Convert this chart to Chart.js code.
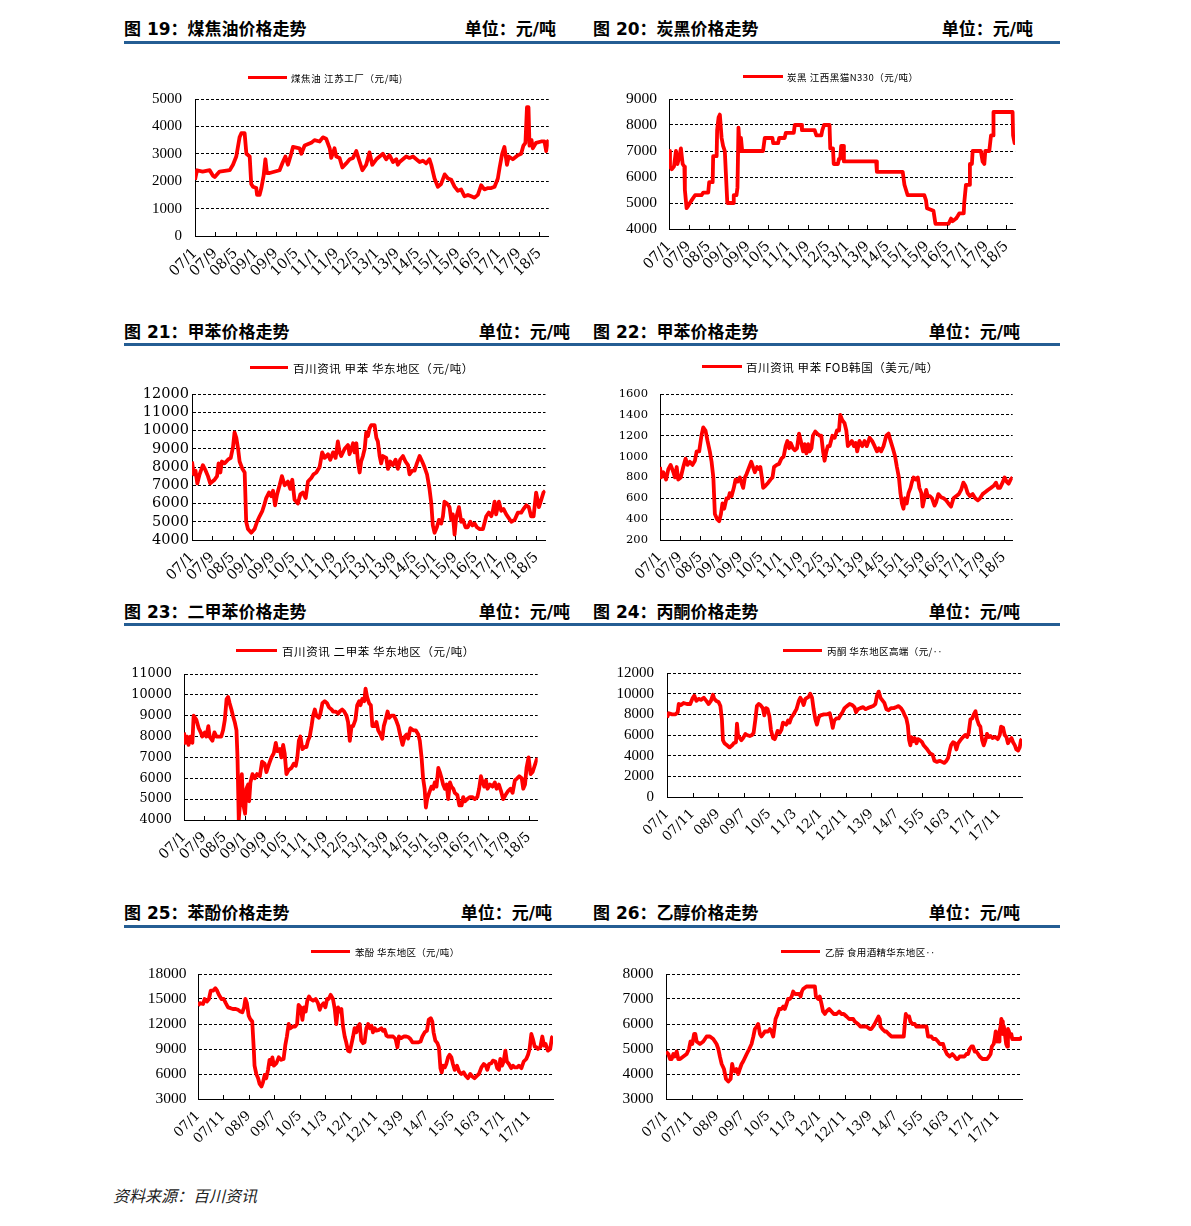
<!DOCTYPE html>
<html><head><meta charset="utf-8">
<script src="https://cdn.jsdelivr.net/npm/chart.js@4.4.1/dist/chart.umd.min.js"></script>
<style>
html,body{margin:0;padding:0;background:#fff;}
body{width:1191px;height:1226px;position:relative;overflow:hidden;}
.hd{position:absolute;font-family:"DejaVu Sans","Noto Sans CJK SC",sans-serif;font-weight:bold;font-size:17px;line-height:20px;color:#000;white-space:nowrap;}
.rule{position:absolute;left:124px;width:936px;height:3px;background:#245D93;}
.lgl{position:absolute;height:3px;background:#FF0000;}
.lgt{position:absolute;font-family:"Noto Sans CJK SC",sans-serif;color:#000;white-space:nowrap;line-height:14px;}
canvas{position:absolute;}
.src{position:absolute;left:113px;top:1184px;font-family:"Noto Sans CJK SC",sans-serif;font-style:italic;font-size:16px;line-height:22px;color:#222;}
</style></head>
<body>
<div class="hd" style="left:124px;top:19px">图 19：煤焦油价格走势</div>
<div class="hd" style="right:635px;top:19px">单位：元/吨</div>
<div class="hd" style="left:593px;top:19px">图 20：炭黑价格走势</div>
<div class="hd" style="right:158px;top:19px">单位：元/吨</div>
<div class="rule" style="top:41px"></div>

<div class="hd" style="left:124px;top:322px">图 21：甲苯价格走势</div>
<div class="hd" style="right:621px;top:322px">单位：元/吨</div>
<div class="hd" style="left:593px;top:322px">图 22：甲苯价格走势</div>
<div class="hd" style="right:171px;top:322px">单位：元/吨</div>
<div class="rule" style="top:343px"></div>

<div class="hd" style="left:124px;top:602px">图 23：二甲苯价格走势</div>
<div class="hd" style="right:621px;top:602px">单位：元/吨</div>
<div class="hd" style="left:593px;top:602px">图 24：丙酮价格走势</div>
<div class="hd" style="right:171px;top:602px">单位：元/吨</div>
<div class="rule" style="top:623px"></div>

<div class="hd" style="left:124px;top:903px">图 25：苯酚价格走势</div>
<div class="hd" style="right:639px;top:903px">单位：元/吨</div>
<div class="hd" style="left:593px;top:903px">图 26：乙醇价格走势</div>
<div class="hd" style="right:171px;top:903px">单位：元/吨</div>
<div class="rule" style="top:925px"></div>

<canvas id="c19" width="441" height="222" style="left:120px;top:69px"></canvas>
<canvas id="c20" width="434" height="215" style="left:594px;top:69px"></canvas>
<canvas id="c21" width="441" height="231" style="left:117px;top:364px"></canvas>
<canvas id="c22" width="440" height="231" style="left:585px;top:364px"></canvas>
<canvas id="c23" width="441" height="231" style="left:109px;top:644px"></canvas>
<canvas id="c24" width="442" height="209" style="left:592px;top:643px"></canvas>
<canvas id="c25" width="442" height="210" style="left:123px;top:944px"></canvas>
<canvas id="c26" width="443" height="210" style="left:591px;top:944px"></canvas>

<div class="lgl" style="left:248px;top:76px;width:39px"></div>
<div class="lgt" style="left:291px;top:71px;font-size:9.5px;letter-spacing:0.6px">煤焦油 江苏工厂（元/吨)</div>
<div class="lgl" style="left:743px;top:75px;width:40px"></div>
<div class="lgt" style="left:787px;top:70px;font-size:9.5px;letter-spacing:0.5px">炭黑 江西黑猫N330（元/吨）</div>
<div class="lgl" style="left:250px;top:366px;width:38px"></div>
<div class="lgt" style="left:293px;top:361px;font-size:11.5px;letter-spacing:0.6px">百川资讯 甲苯 华东地区（元/吨）</div>
<div class="lgl" style="left:702px;top:365px;width:40px"></div>
<div class="lgt" style="left:746px;top:360px;font-size:11.5px;letter-spacing:0.6px">百川资讯 甲苯 FOB韩国（美元/吨）</div>
<div class="lgl" style="left:236px;top:649px;width:41px"></div>
<div class="lgt" style="left:282px;top:644px;font-size:11.5px;letter-spacing:0.6px">百川资讯 二甲苯 华东地区（元/吨）</div>
<div class="lgl" style="left:783px;top:649px;width:39px"></div>
<div class="lgt" style="left:827px;top:644px;font-size:9.5px;letter-spacing:0.4px">丙酮 华东地区高端（元/‥</div>
<div class="lgl" style="left:311px;top:950px;width:39px"></div>
<div class="lgt" style="left:355px;top:945px;font-size:9.5px;letter-spacing:0.3px">苯酚 华东地区（元/吨）</div>
<div class="lgl" style="left:781px;top:950px;width:39px"></div>
<div class="lgt" style="left:825px;top:945px;font-size:9.5px;letter-spacing:0.3px">乙醇 食用酒精华东地区‥</div>

<div class="src">资料来源：百川资讯</div>

<script>
// tick labels (year/month since 2007)
const topTicks = ['07/1','07/9','08/5','09/1','09/9','10/5','11/1','11/9','12/5','13/1','13/9','14/5','15/1','15/9','16/5','17/1','17/9','18/5'];
const bottomTicks = ['07/1','07/11','08/9','09/7','10/5','11/3','12/1','12/11','13/9','14/7','15/5','16/3','17/1','17/11'];

// series: [months since 2007/1, price]
const coalTar = [[0,2050],[0.8,2400],[3,2350],[5.8,2400],[7.1,2200],[7.8,2150],[9.7,2350],[13.7,2400],[15,2600],[16.3,2900],[17.6,3600],[18.3,3750],[19.6,3750],[20.3,3000],[21.6,2900],[22.2,1900],[22.9,1800],[24.2,1750],[24.5,1500],[25.5,1500],[26.2,1750],[27.1,2200],[27.8,2800],[28.4,2300],[29.5,2300],[33.4,2400],[34.7,2700],[35.7,2900],[36.7,2600],[38,3000],[38.7,3250],[41.3,3200],[42,3000],[43.3,3300],[45.9,3400],[47.2,3500],[49.2,3450],[50.5,3600],[51.8,3550],[53.2,3200],[53.8,2850],[55.1,3200],[55.8,2900],[57.1,2850],[58.2,2500],[59.7,2650],[61.1,2800],[62.4,2850],[63.7,3100],[64.7,2800],[66.1,2400],[67.6,2600],[68.9,3050],[70,2600],[71.6,2800],[74.2,3000],[75.5,2800],[76.8,2950],[78.2,2700],[79.5,2800],[80.1,2600],[80.8,2700],[83.4,2900],[84.7,2850],[86.1,2900],[87.4,2800],[88.7,2700],[90,2750],[91.3,2650],[92.6,2800],[93.3,2600],[94.6,2100],[95.9,1800],[97.2,1900],[98.6,2250],[99.9,2100],[101.2,2050],[102.5,1800],[103.8,1650],[105.1,1700],[106.4,1450],[107.8,1500],[109.1,1450],[110.4,1400],[111.7,1500],[113,1850],[114.3,1700],[115.7,1750],[117,1750],[118.3,1800],[119.6,2100],[120.3,2500],[121.3,3000],[122.2,3250],[123.2,2600],[123.9,2900],[125.5,2800],[127.5,2950],[128.8,3000],[129.7,3300],[130.5,3400],[131.1,4700],[131.7,4700],[132.1,3300],[132.9,3500],[133.4,3200],[134.7,3400],[136.7,3450],[138,3450],[138.7,3100],[139.3,3450],[139.7,3500]];

const carbonBlack = [[0,7000],[0.4,6400],[1.1,6300],[2,6400],[2.8,7000],[3.4,6500],[4.2,6800],[4.8,7100],[5.5,6500],[6.2,6400],[6.4,5500],[7.1,4800],[7.8,4900],[8.4,5000],[9.1,5100],[10.5,5300],[13.1,5300],[13.8,5400],[15.8,5400],[16.2,5800],[17.6,5800],[17.8,6800],[19.2,6800],[19.4,7800],[20,8300],[20.5,8400],[21.2,7500],[21.8,7200],[22.5,7000],[22.9,6200],[23.5,5000],[25.9,5000],[26.1,5300],[27.2,5300],[27.6,5600],[28,7900],[28.6,7000],[29,7500],[29.5,7000],[37.9,7000],[38.6,7500],[41.7,7500],[42,7300],[44,7300],[44.4,7500],[46.6,7500],[47.1,7700],[50.3,7700],[50.7,8000],[53.4,8000],[53.6,7800],[58.7,7800],[59.4,7600],[61.4,7600],[61.8,7800],[62.5,8000],[64.7,8000],[65,7100],[66.1,7100],[66.4,6500],[68.1,6500],[68.5,6700],[69,6700],[69.4,7200],[70.4,7200],[70.5,6600],[83.5,6600],[83.8,6200],[94.2,6200],[94.9,5700],[96.2,5300],[102.9,5300],[103.6,5100],[104,4800],[106.6,4700],[107.4,4200],[112.7,4200],[113.7,4400],[114.3,4300],[115.7,4400],[116.4,4500],[117,4600],[118.8,4600],[119,5000],[119.7,5700],[121,5700],[121.3,6500],[122.1,6500],[122.4,7000],[125.7,7000],[126.4,6600],[127.1,6500],[127.5,7000],[129.1,7000],[129.8,7600],[130.7,7600],[130.8,8500],[138.5,8500],[138.7,7600],[139.3,7300],[139.5,7300]];

const tolueneEast = [[0,8300],[0.7,7600],[1.4,7800],[2.1,7100],[3,7600],[4.3,8100],[5.4,7800],[6.3,7500],[7.2,7100],[8.9,7300],[9.9,7500],[10.5,8200],[11.2,7700],[11.8,8300],[12.9,8200],[14.2,8400],[15.3,8500],[16.2,9100],[16.8,9900],[17.5,9600],[18.2,9000],[18.8,8300],[19.9,7900],[20.8,7700],[21.4,5000],[22.1,4600],[23.4,4400],[24.7,4600],[25.7,5000],[26.7,5300],[27.8,5600],[28.7,6000],[29.3,6300],[30.4,6600],[31.3,6400],[32,6700],[32.8,5900],[33.6,6500],[34.6,7000],[35.5,7500],[36.6,7000],[37.9,7200],[38.8,6800],[39.6,7300],[40.5,6200],[41.8,6000],[42.8,6500],[43.8,6600],[44.9,6300],[45.8,7200],[47.1,7400],[48,7600],[49.1,7700],[50.4,8000],[51.4,8800],[52.4,8500],[53.7,8700],[54.6,8400],[55.7,8800],[56.7,8500],[57.6,9400],[58.3,8800],[58.9,8600],[60.3,9000],[61.6,9200],[62.2,8700],[63.6,9300],[64.2,8800],[64.9,9300],[65.5,8300],[66.2,7700],[66.8,8300],[67.5,8600],[68.2,9000],[68.8,9900],[69.5,9700],[70.1,10100],[70.8,10300],[72.1,10300],[72.8,9600],[73.4,9400],[74.1,8600],[74.7,8200],[75.4,8600],[76.7,8500],[77.4,7900],[78.3,8300],[79.3,8100],[80.4,8400],[81.3,7900],[82.2,8400],[83.3,8600],[84.3,8300],[85.3,8100],[85.9,7600],[87,7800],[87.9,7800],[88.8,8200],[89.9,8600],[90.9,8300],[91.8,8000],[92.8,7600],[93.8,6800],[94.5,6000],[95.1,4800],[95.8,4400],[96.7,4700],[97.5,5100],[98.4,4900],[99.1,5300],[99.7,6100],[100.7,6000],[101.7,5800],[102.4,5100],[103,5400],[103.7,4300],[104.3,5200],[105.4,5800],[106.3,5000],[107,5100],[108,4700],[108.9,4700],[109.9,5000],[110.7,4800],[111.6,4900],[112.5,4700],[113.6,4600],[114.9,4600],[116.2,5300],[117.2,5500],[118.2,5300],[118.8,5600],[119.5,6100],[120.1,5400],[121.2,6100],[122.1,5600],[123,5700],[124.1,5400],[125.1,5200],[126.1,5000],[127.4,5100],[128.7,5500],[130,5500],[130.9,5700],[132,5900],[133,5800],[133.9,5300],[134.9,5300],[135.9,6600],[137,5800],[137.9,6200],[138.8,6600],[139.5,6700]];

const tolueneFob = [[0,900],[0.4,800],[1.3,850],[2.4,780],[3.3,880],[4.2,920],[5.3,850],[5.9,800],[6.6,900],[7.2,780],[8.2,800],[9.2,900],[10.1,980],[10.9,920],[11.8,950],[12.8,920],[13.8,960],[14.5,1050],[15.5,1050],[16.4,1200],[17.1,1280],[18,1250],[18.8,1150],[19.7,1050],[20.4,950],[21.1,800],[21.7,450],[22.6,400],[23.4,380],[24.1,450],[24.7,550],[25.4,500],[26.3,600],[27.1,600],[27.6,650],[28.3,620],[29.2,700],[29.9,780],[30.7,760],[31.6,800],[32.2,750],[32.9,700],[33.6,800],[34.2,830],[35.3,900],[36.1,950],[36.8,900],[37.5,850],[38.4,900],[39.2,880],[39.7,900],[40.3,800],[40.8,700],[41.7,720],[42.8,750],[43.7,780],[44.5,800],[45.1,900],[46.1,920],[47.1,930],[48,980],[48.9,1000],[49.7,1100],[50.4,1150],[51.1,1080],[51.7,1130],[52.6,1080],[53.3,1060],[54.2,1080],[55,1220],[55.7,1150],[56.6,1050],[57.2,1120],[57.9,1030],[58.6,1120],[59.2,1050],[59.9,1080],[60.5,1200],[61.4,1240],[62.2,1220],[63.2,1200],[63.8,1200],[64.5,1050],[65.1,960],[65.8,1050],[66.4,1100],[67.1,1100],[68.2,1200],[69.1,1180],[70,1250],[70.8,1250],[71.3,1400],[72.1,1350],[73,1320],[73.7,1250],[74.3,1100],[75,1120],[75.9,1150],[76.7,1100],[77.4,1130],[78,1050],[78.9,1150],[80,1100],[80.9,1150],[81.8,1100],[82.9,1180],[83.9,1150],[84.9,1100],[85.8,1050],[86.6,1080],[87.5,1050],[88.4,1100],[89.5,1200],[90.4,1220],[91.2,1150],[92.1,1080],[93,1000],[93.7,900],[94.5,800],[95.1,650],[95.7,550],[96.3,500],[96.9,600],[97.6,550],[98.3,650],[99.1,700],[99.6,750],[100.3,800],[101.1,780],[102,800],[102.6,700],[103.4,650],[103.9,520],[104.6,600],[105.3,680],[105.9,620],[106.8,620],[107.6,600],[108.6,530],[109.2,560],[110.1,640],[111.2,610],[112.2,600],[113.2,580],[114.1,550],[115.1,520],[116.1,600],[117.1,620],[118.2,640],[119.1,680],[120,750],[120.8,720],[121.7,650],[122.6,620],[123.7,640],[124.7,600],[125.7,580],[126.6,600],[127.6,640],[128.7,660],[129.7,680],[130.9,700],[132,720],[132.9,750],[133.7,700],[134.5,700],[135.5,750],[136.3,800],[137.1,760],[137.9,740],[138.7,780],[139.5,800]];

const xylene = [[0,8200],[0.5,7700],[1.2,8000],[1.8,7600],[2.6,8000],[3.3,7700],[3.8,9000],[4.9,8800],[5.8,8400],[6.6,8200],[7.2,8000],[8.2,8200],[8.8,8000],[9.6,8500],[10.1,8000],[11.2,7800],[12,8200],[12.8,8000],[13.8,8000],[14.7,8000],[15.4,8300],[16.1,8800],[16.8,9800],[17.4,9900],[18,9600],[18.7,9300],[19.3,9000],[20,8700],[20.7,8300],[21.1,7000],[21.6,4000],[22.2,5000],[22.8,6200],[23.3,4800],[24.1,4300],[24.6,5500],[25.3,5700],[25.7,4900],[26.2,5800],[27,6200],[27.9,6000],[28.8,6200],[29.9,6100],[30.8,6800],[31.8,6700],[32.5,6300],[33.6,6700],[34.5,7000],[35.4,7200],[36.2,7700],[36.8,7300],[37.8,7400],[38.4,7000],[39.1,7600],[39.7,7200],[40.4,6200],[41.3,6400],[42.4,6500],[43.3,6700],[44.1,6600],[44.7,7000],[45.3,7800],[45.9,8000],[46.7,7400],[47.6,7500],[48.3,7500],[48.9,7800],[49.6,8000],[50.3,8500],[50.9,9000],[51.6,9300],[52.2,9000],[53.2,8900],[53.8,9100],[54.6,9600],[55.5,9700],[56.4,9600],[57.2,9400],[58.2,9300],[58.8,9200],[59.9,9200],[60.8,9100],[61.4,9200],[62.4,9300],[63.2,9200],[64.1,9000],[64.7,8700],[65.4,7800],[66.1,8500],[66.7,8500],[67.6,8800],[68.3,9500],[69.1,9700],[69.6,9500],[70.3,9800],[71.1,9700],[71.6,10300],[72.2,9900],[73,9600],[73.7,9500],[74.3,8500],[75.3,8500],[75.9,8700],[76.6,8300],[77.5,8100],[78.2,7900],[78.8,8500],[79.5,8800],[80.3,9200],[80.9,8900],[81.8,9000],[82.8,9000],[83.6,8800],[84.5,8500],[85.4,8000],[86.2,7600],[87.1,8000],[87.8,8100],[88.4,7900],[89.3,8400],[90.4,8300],[91.4,8300],[92.4,8100],[93,7800],[93.7,7000],[94.3,6000],[94.9,5500],[95.4,4600],[95.9,5000],[96.7,5300],[97.6,5600],[98.3,5500],[98.9,5800],[99.6,5600],[100.3,6500],[100.9,6300],[101.6,6000],[102.2,5700],[102.9,5500],[103.6,5700],[104.2,5000],[104.9,5800],[105.5,5600],[106.2,5500],[106.8,5300],[107.8,5200],[108.6,4700],[109.5,4700],[110.1,5100],[110.8,4900],[111.7,5000],[112.8,5100],[113.8,5100],[114.7,5000],[115.7,5100],[116.4,5500],[117.1,6100],[117.8,5800],[118.4,5600],[119.1,5900],[119.7,5500],[120.7,5700],[121.7,5600],[122.6,5800],[123.3,5500],[124.2,5700],[125,5400],[125.9,5000],[126.8,5200],[127.9,5400],[128.8,5500],[129.6,5300],[130.5,5900],[131.4,6000],[132.2,6100],[133.2,6000],[133.8,5500],[134.5,5700],[135.1,6500],[135.9,7000],[136.7,6200],[137.5,6300],[138.3,6600],[139.1,6900],[139.5,6800]];

const acetone = [[0,7700],[0.7,8100],[2,8000],[3.3,8000],[4.2,8200],[4.6,9000],[5.5,8900],[6.5,9100],[7.8,9000],[9.1,9000],[10.1,9600],[10.7,9800],[11.5,9300],[12.4,9500],[13.3,9400],[14.4,9600],[15.4,9300],[16.3,9000],[17.2,9300],[18,9900],[18.5,9500],[19.3,9300],[20.2,9200],[20.9,8800],[21.5,7500],[21.9,5500],[22.5,5200],[23.5,5000],[24.5,4800],[25.5,5000],[26.1,5200],[27,5300],[27.4,7100],[27.8,6000],[28.5,5700],[29.1,5500],[29.8,5700],[30.7,6100],[31.3,6000],[32.4,5900],[33.3,6000],[33.9,6200],[34.6,7500],[35.2,8800],[35.9,9000],[36.6,8900],[37.5,8600],[38.1,7900],[38.8,8600],[39.4,8500],[40.1,7800],[40.7,6500],[41.5,5700],[42.2,5600],[42.8,6000],[43.3,6400],[44.1,6200],[44.8,6500],[45.4,7200],[46,7100],[46.7,7000],[47.4,7400],[48,7200],[48.7,7700],[49.3,7900],[50,8200],[50.7,8500],[51.6,9300],[52.2,9600],[52.9,9300],[53.5,8900],[54.2,9500],[54.8,9600],[55.5,9700],[56.1,10000],[56.8,9600],[57.4,8500],[58.1,7500],[58.7,7000],[59.4,7700],[60.1,7900],[61.4,8000],[62.7,8000],[63.7,8100],[64.2,7600],[64.9,6700],[65.5,7400],[66.3,7600],[67.2,7600],[67.9,7900],[68.7,8200],[69.5,8600],[70.5,8800],[71.5,9000],[72.5,8900],[73.4,8700],[74,8200],[74.8,8500],[75.7,8600],[76.8,8700],[77.7,8500],[78.6,8600],[79.6,8700],[80.7,8800],[81.6,9000],[82.2,9800],[82.9,10200],[83.6,9600],[84.2,9400],[85.1,9100],[85.9,8500],[86.8,8400],[87.7,8600],[88.8,8600],[89.8,8700],[90.7,8800],[91.6,8600],[92.4,8300],[92.9,8000],[93.7,7600],[94.3,6900],[94.8,5500],[95.3,5000],[95.7,5800],[96.3,5400],[97,5700],[97.7,5200],[98.3,5600],[99,5500],[99.9,5300],[100.5,5000],[101.6,4700],[102.5,4400],[103.1,4200],[104,4100],[104.7,3500],[105.7,3400],[106.8,3500],[107.7,3400],[108.6,3300],[109.4,3500],[110.1,3800],[110.6,4400],[111.2,5000],[112,5300],[112.7,5200],[113.3,4600],[114,5200],[114.9,5500],[115.9,5800],[116.8,6000],[117.5,5800],[118.1,6200],[118.8,7500],[119.5,7600],[120.1,8000],[120.8,8300],[121.4,7500],[122.1,7000],[122.7,6800],[123.4,5500],[124,5000],[124.7,5500],[125.3,6100],[126,5800],[126.6,5900],[127.5,5700],[128.5,5800],[129.5,5600],[130.3,6000],[130.8,6800],[131.6,6700],[132.2,6000],[132.9,5800],[133.5,5200],[134.2,5500],[134.9,5700],[135.5,5300],[136.2,5000],[136.8,4600],[137.5,4500],[138.1,4800],[138.6,5500],[139,5600]];

const phenol = [[0,14200],[0.7,14500],[2,14400],[2.6,15000],[3.5,14700],[4.3,15000],[5,16000],[5.9,16000],[6.8,16300],[7.5,16000],[8.2,15500],[9.2,15000],[10.1,15000],[10.9,14500],[11.8,14000],[12.8,13900],[13.7,13800],[14.8,13800],[15.7,13700],[16.6,13500],[17.4,13400],[18.1,14000],[18.6,15000],[19.2,14500],[19.9,13000],[20.5,12600],[21.3,12300],[21.9,9000],[22.2,7000],[22.9,6000],[23.6,5500],[24.2,4800],[24.9,4500],[25.5,5000],[26.2,5900],[26.8,5500],[27.5,6500],[28.1,7700],[28.8,7200],[29.2,8000],[29.8,7000],[30.8,7300],[31.7,8000],[32.7,7700],[33.6,7800],[34.3,9500],[34.9,10500],[35.6,12000],[36.3,11500],[37.3,11700],[38.2,11700],[38.9,12000],[39.5,14300],[40.3,14000],[41,12500],[41.6,14000],[42.3,13500],[42.9,14800],[43.6,15300],[44.2,15000],[45.2,14800],[46.2,15000],[47.1,14500],[47.8,13700],[48.4,14200],[49.3,14500],[50,14000],[50.7,15000],[51.3,15000],[52.1,15500],[53,15000],[53.7,13800],[54.3,12000],[55,14000],[55.6,13500],[56.3,13800],[56.9,11800],[57.6,10500],[58.2,9800],[58.9,8800],[59.6,8700],[60.2,9500],[60.9,10500],[61.5,11500],[62.2,11000],[62.8,11700],[63.5,12000],[64.1,10000],[64.8,9700],[65.4,9800],[66.1,11500],[66.8,12000],[67.4,11500],[68.1,11800],[68.7,11000],[69.4,11500],[70,11200],[71.1,11300],[72,11500],[72.6,11200],[73.3,11300],[74,10600],[74.6,10500],[75.5,10500],[76.6,10500],[77.6,10200],[78.3,9200],[78.9,10500],[79.8,10300],[80.8,10500],[81.8,10500],[82.7,10400],[83.4,10200],[84.2,9800],[85.1,9800],[86.4,9800],[87.4,9900],[88.1,10500],[89,11000],[89.9,11200],[90.6,12500],[91.4,12700],[92,12300],[92.5,11000],[93.2,10000],[94,9700],[94.6,9200],[95.2,6700],[95.7,6200],[96.2,7000],[96.9,6800],[97.5,7200],[98.2,8000],[98.8,8300],[99.5,8000],[100.1,7200],[100.8,6500],[101.7,7000],[102.5,6300],[103.4,6000],[104.3,6200],[105.1,5800],[106,5500],[106.9,6000],[107.7,5700],[108.6,5500],[109.6,5800],[110.3,6000],[111.3,6800],[112.2,7200],[113,7000],[113.6,6500],[114.3,7200],[115.2,7300],[115.8,7600],[116.8,7500],[117.5,6700],[118.2,6500],[118.7,7800],[119.4,7000],[120,7500],[120.7,8800],[121.3,7500],[122.1,7200],[123,6700],[123.7,7000],[124.3,6800],[125.3,6800],[126,7000],[127,6700],[127.9,7500],[128.9,7800],[129.6,8300],[130.2,9000],[130.9,10800],[131.5,10200],[132.2,9300],[132.9,9200],[133.5,9000],[134.4,9200],[135.2,10500],[135.9,9400],[136.5,9600],[137.4,8800],[138.3,9000],[139,10400],[139.4,10500]];

const ethanol = [[0,4900],[0.9,4800],[1.6,4600],[2.2,4600],[2.9,4800],[3.5,4700],[4.2,4900],[4.8,4600],[5.5,4600],[6.8,4700],[8.1,4800],[9,5000],[9.6,5300],[10.3,5200],[11,5600],[11.5,5600],[12,5300],[13.3,5200],[14.6,5300],[15.9,5500],[17.2,5500],[18.5,5400],[19.8,5200],[20.5,5000],[21.1,4700],[21.8,4400],[22.7,4200],[23.5,3800],[24.4,3700],[25.3,3800],[25.9,4400],[26.3,4200],[27,4100],[27.6,4200],[28.3,4000],[28.9,4200],[29.6,4400],[30.2,4500],[31.6,4800],[32.6,5000],[33.5,5200],[34.2,5500],[34.8,5800],[35.5,5900],[36.1,6000],[36.8,5600],[37.4,5500],[38.1,5600],[38.7,5700],[40,5700],[40.7,5800],[41.3,5700],[42,5500],[42.4,5800],[42.9,6200],[43.7,6400],[44.3,6600],[45.2,6600],[45.9,6700],[46.5,6600],[47.2,6800],[47.8,7000],[48.5,7000],[49.2,7100],[49.8,7300],[50.5,7200],[51.1,7200],[52.2,7200],[52.7,7100],[53.2,7300],[53.7,7400],[55,7500],[56.3,7500],[57.6,7500],[58.3,7500],[58.7,7100],[59.6,7000],[60.2,7100],[60.9,6800],[61.5,6500],[62.2,6400],[62.8,6500],[63.9,6600],[64.8,6500],[65.7,6400],[66.8,6400],[67.8,6500],[68.7,6400],[69.6,6400],[70.7,6300],[71.7,6200],[72.6,6200],[73.3,6200],[73.9,6100],[75.2,6000],[76.1,5900],[77.2,5900],[78.5,5900],[79.8,5800],[80.4,5800],[81.1,5900],[81.7,6000],[82.7,6200],[83.2,6300],[83.7,6200],[84,5900],[84.7,5800],[85.7,5700],[86.3,5700],[87.2,5600],[88.3,5500],[89.2,5500],[90.2,5500],[92.2,5500],[93.1,5500],[93.5,6000],[93.9,6400],[94.4,6300],[95.2,6300],[95.7,6100],[96.5,6000],[97.4,6000],[98,5900],[99.3,5900],[100.7,5900],[102,5900],[102.3,5700],[102.6,5500],[103.9,5500],[104.6,5400],[105.6,5400],[106.5,5300],[107.2,5200],[107.8,5200],[108.5,5200],[109.1,5000],[110,4800],[111.1,4700],[112.1,4800],[113,4700],[113.7,4600],[114.3,4600],[115,4700],[116,4700],[116.9,4700],[117.6,4800],[118.3,4800],[118.9,5000],[119.6,5100],[120.2,5100],[120.9,4900],[121.5,4900],[122.2,4800],[122.8,4700],[123.9,4600],[124.8,4600],[125.7,4600],[126.5,4700],[127.1,4800],[127.6,5100],[128.3,5200],[128.7,5400],[129.1,5700],[129.6,5300],[130,5500],[130.4,5300],[130.6,5700],[131,5900],[131.3,6200],[131.7,6100],[131.9,5600],[132.3,5900],[132.7,5600],[133.2,5200],[133.6,5100],[133.9,5800],[134.3,5700],[134.8,5500],[135.2,5600],[135.6,5400],[136.5,5400],[137.8,5400],[138.7,5400],[139.4,5500]];

const monthOf = s => { const p = s.split('/').map(Number); return (p[0]-7)*12 + (p[1]-1); };

const innerTicks = {
  id: 'innerTicks',
  afterDraw(chart) {
    const x = chart.scales.x, ctx = chart.ctx;
    ctx.save(); ctx.strokeStyle = '#000'; ctx.lineWidth = 1;
    x.ticks.forEach(t => {
      const px = Math.round(x.getPixelForValue(t.value)) + 0.5;
      ctx.beginPath(); ctx.moveTo(px, x.top); ctx.lineTo(px, x.top - 4); ctx.stroke();
    });
    ctx.restore();
  }
};

const YW = 75, PT = 30, PR = 12, XH = 55;
const specs = [
  {id:'c19', data:coalTar, labels:topTicks, xMax:139.7, yMin:0, yMax:5000, step:1000, fam:'Liberation Serif', fs:15, gap:13, xfam:'DejaVu Serif', xfs:14.5},
  {id:'c20', data:carbonBlack, labels:topTicks, xMax:139.5, yMin:4000, yMax:9000, step:1000, fam:'Liberation Serif', fs:15.5, gap:12, xfam:'DejaVu Serif', xfs:14.5},
  {id:'c21', data:tolueneEast, labels:topTicks, xMax:139.6, yMin:4000, yMax:12000, step:1000, fam:'DejaVu Serif', fs:14.5, gap:3, xfam:'DejaVu Serif', xfs:14.5},
  {id:'c22', data:tolueneFob, labels:topTicks, xMax:139.5, yMin:200, yMax:1600, step:200, fam:'DejaVu Serif', fs:11.5, gap:12, xfam:'DejaVu Serif', xfs:14},
  {id:'c23', data:xylene, labels:topTicks, xMax:139.5, yMin:4000, yMax:11000, step:1000, fam:'DejaVu Serif', fs:12.8, gap:12, xfam:'DejaVu Serif', xfs:14},
  {id:'c24', data:acetone, labels:bottomTicks, xMax:139, yMin:0, yMax:12000, step:2000, fam:'Liberation Serif', fs:15, gap:13, xfam:'DejaVu Serif', xfs:13.5},
  {id:'c25', data:phenol, labels:bottomTicks, xMax:139.4, yMin:3000, yMax:18000, step:3000, fam:'Liberation Serif', fs:15.5, gap:11.5, xfam:'DejaVu Serif', xfs:13.5},
  {id:'c26', data:ethanol, labels:bottomTicks, xMax:139.4, yMin:3000, yMax:8000, step:1000, fam:'Liberation Serif', fs:15.5, gap:12.5, xfam:'DejaVu Serif', xfs:13.5}
];

specs.forEach(s => {
  const font = {family: s.fam, size: s.fs};
  const xfont = {family: s.xfam, size: s.xfs};
  const tickVals = s.labels.map(monthOf);
  new Chart(document.getElementById(s.id), {
    type: 'line',
    data: { datasets: [{ data: s.data, borderColor: '#FF0000', borderWidth: 3.8, pointRadius: 0, tension: 0, borderJoinStyle: 'round', fill: false }] },
    plugins: [innerTicks],
    options: {
      responsive: false, animation: false, events: [],
      layout: { padding: { top: PT, right: PR, left: 0, bottom: 0 } },
      plugins: { legend: { display: false }, tooltip: { enabled: false } },
      scales: {
        x: {
          type: 'linear', min: 0, max: s.xMax,
          afterBuildTicks: sc => { sc.ticks = tickVals.map(v => ({ value: v })); },
          afterFit: sc => { sc.height = XH; },
          grid: { display: true, drawOnChartArea: false, drawTicks: false },
          border: { display: true, color: '#000', width: 1 },
          ticks: { autoSkip: false, maxRotation: 45, minRotation: 45, padding: 9, font: xfont, color: '#000',
            callback: v => s.labels[tickVals.indexOf(v)] }
        },
        y: {
          min: s.yMin, max: s.yMax,
          afterFit: sc => { sc.width = YW; },
          grid: { color: '#000', lineWidth: 1, drawTicks: false },
          border: { display: true, color: '#000', width: 1, dash: [3, 2] },
          ticks: { stepSize: s.step, autoSkip: false, padding: s.gap, font: font, color: '#000',
            callback: v => String(v) }
        }
      }
    }
  });
});
</script>
</body></html>
